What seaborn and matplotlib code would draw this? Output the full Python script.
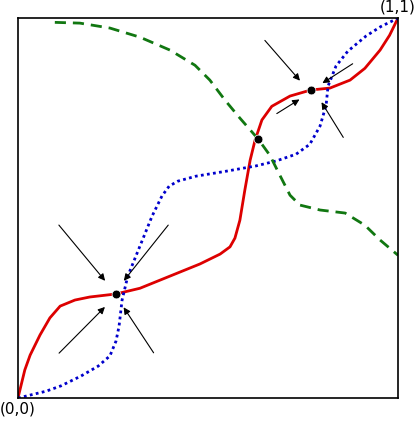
import matplotlib
matplotlib.use("Agg")
import matplotlib.pyplot as plt
import seaborn as sns
import pandas as pd

# red curve f(x)
red_x = [0, 0.018, 0.032, 0.058, 0.084, 0.111, 0.15, 0.189, 0.258, 0.321, 0.4, 0.479, 0.532, 0.558, 0.571,
         0.584, 0.597, 0.611, 0.624, 0.642, 0.668, 0.716, 0.771, 0.821, 0.874, 0.913, 0.953, 0.978, 1]
red_y = [0, 0.074, 0.113, 0.166, 0.211, 0.242, 0.258, 0.266, 0.274, 0.289, 0.321, 0.353, 0.379, 0.398, 0.421,
         0.468, 0.547, 0.626, 0.679, 0.732, 0.768, 0.795, 0.811, 0.816, 0.837, 0.868, 0.916, 0.955, 1]
# blue dotted curve (inverse of the red one)
blue_x = red_y
blue_y = red_x
# green dashed curve
green_x = [0.097, 0.163, 0.242, 0.321, 0.4, 0.466, 0.505, 0.545, 0.584, 0.632, 0.663, 0.689, 0.716,
           0.742, 0.795, 0.861, 0.913, 0.953, 1]
green_y = [0.989, 0.987, 0.974, 0.95, 0.916, 0.876, 0.837, 0.784, 0.737, 0.682, 0.639, 0.587, 0.534,
           0.508, 0.495, 0.487, 0.455, 0.416, 0.376]
# fixed points
pts_x = [0.258, 0.632, 0.771]
pts_y = [0.274, 0.682, 0.81]
# arrows (start x, start y, end x, end y)
arrows = [
    (0.103, 0.461, 0.234, 0.303), (0.400, 0.461, 0.274, 0.303),
    (0.103, 0.113, 0.234, 0.245), (0.361, 0.113, 0.274, 0.245),
    (0.645, 0.947, 0.747, 0.830), (0.887, 0.884, 0.795, 0.825),
    (0.675, 0.745, 0.747, 0.790), (0.860, 0.680, 0.795, 0.785),
]

fig = plt.figure(figsize=(4.18, 4.23), dpi=100)
ax = fig.add_axes([0.043, 0.059, 0.909, 0.898])

sns.lineplot(data=pd.DataFrame({"x": red_x, "y": red_y}), x="x", y="y", sort=False,
             color="#dd0000", lw=2, ax=ax)
sns.lineplot(data=pd.DataFrame({"x": blue_x, "y": blue_y}), x="x", y="y", sort=False,
             color="#0000cc", lw=2, linestyle=(0, (1, 1.2)), ax=ax)
sns.lineplot(data=pd.DataFrame({"x": green_x, "y": green_y}), x="x", y="y", sort=False,
             color="#117711", lw=2, linestyle=(0, (4, 2.5)), ax=ax)
sns.scatterplot(x=pts_x, y=pts_y, color="black", s=40, zorder=5, ax=ax)

for x0, y0, x1, y1 in arrows:
    ax.annotate("", xy=(x1, y1), xytext=(x0, y0),
                arrowprops=dict(arrowstyle="-|>", color="black", lw=0.8, mutation_scale=10))

ax.set_xlim(0, 1)
ax.set_ylim(0, 1)
ax.set_xticks([])
ax.set_yticks([])
ax.set_xlabel("")
ax.set_ylabel("")
for s in ax.spines.values():
    s.set_linewidth(1.2)
ax.text(0, -0.01, "(0,0)", ha="center", va="top", fontsize=11, clip_on=False)
ax.text(1, 1.01, "(1,1)", ha="center", va="bottom", fontsize=11, clip_on=False)

fig.savefig("out.png", dpi=100)
